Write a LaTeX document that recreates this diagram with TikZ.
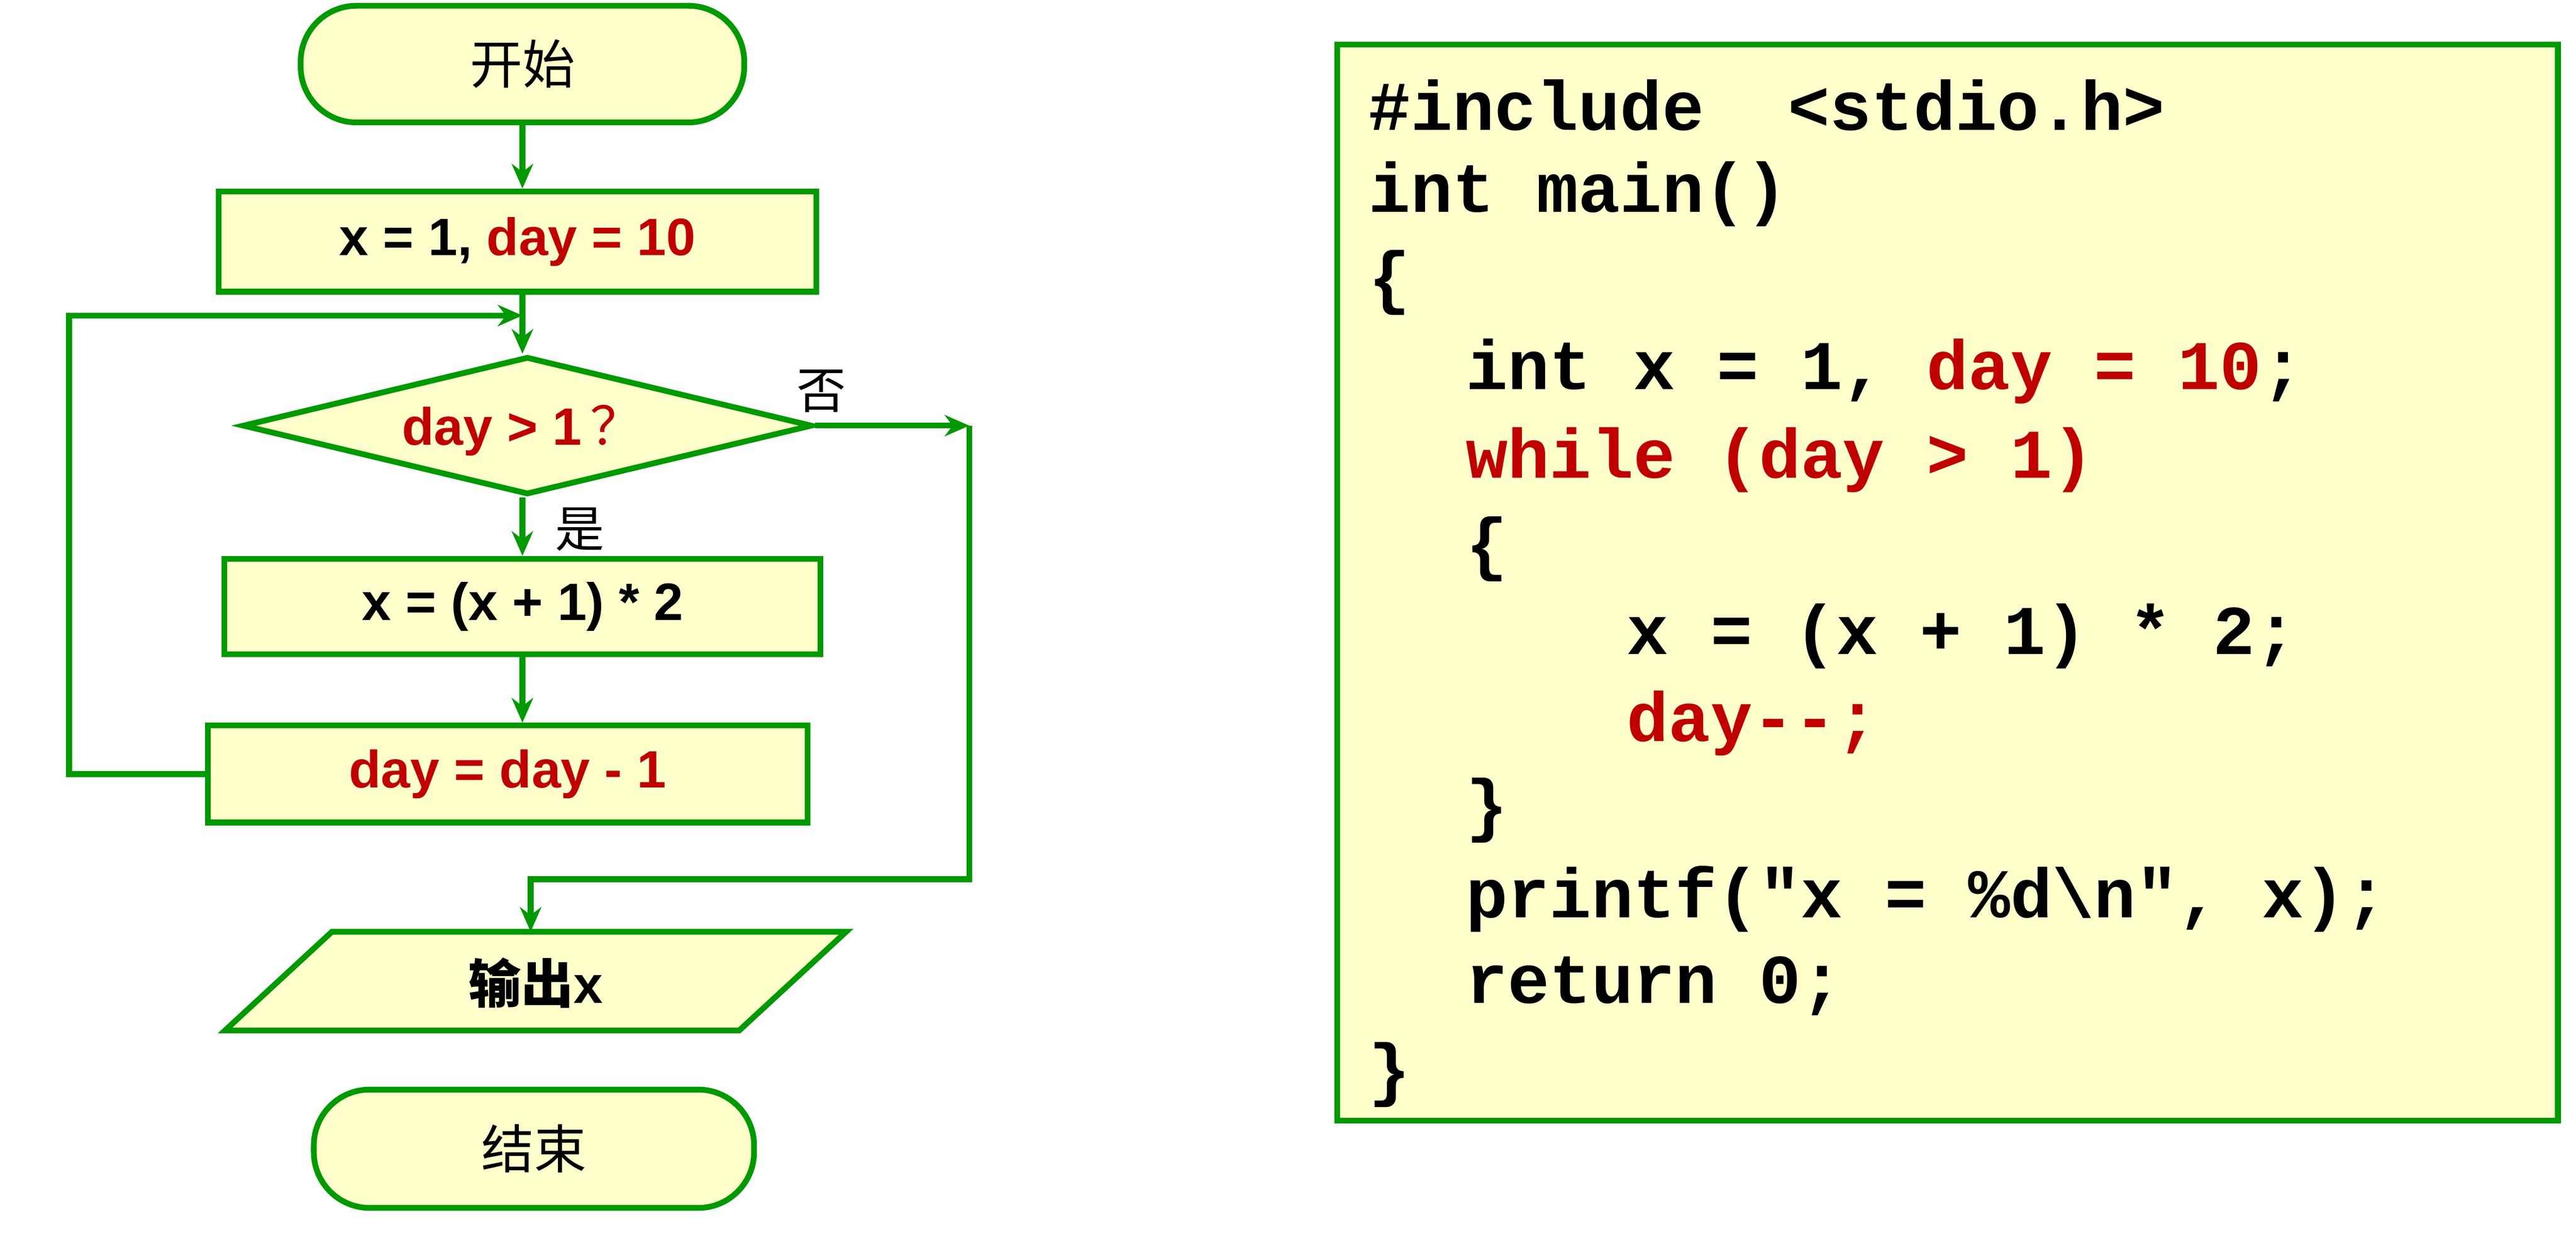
\documentclass[tikz,border=0pt]{standalone}
\usepackage{fontspec}
\setmainfont{Liberation Sans}
\newfontfamily\cjk{Noto Sans CJK SC}
\newfontfamily\codefont{Liberation Mono}
\usetikzlibrary{shapes.geometric,arrows.meta}
\definecolor{gr}{HTML}{009900}
\definecolor{fy}{HTML}{FFFFCC}
\definecolor{rd}{HTML}{C00000}
\begin{document}
\begin{tikzpicture}[x=1pt,y=-1pt,
  box/.style={draw=gr,fill=fy,line width=3.5pt,inner sep=0pt},
  ln/.style={draw=gr,line width=3.5pt},
  ar/.style={ln,-{Stealth[length=15pt,width=13pt]}},
  lab/.style={font=\fontsize{32}{36}\selectfont\bfseries},
  cl/.style={font=\fontsize{32}{36}\selectfont\cjk},
  code/.style={anchor=west,inner sep=0pt,font=\fontsize{42.5}{50}\selectfont\codefont\bfseries}]
\useasboundingbox (0,0) rectangle (1568,755);
\node[box,rounded corners=34pt,minimum width=270pt,minimum height=71pt,cl] (s) at (318,39) {开始};
\node[box,minimum width=364pt,minimum height=61pt,lab] (b1) at (315,147) {x = 1, \textcolor{rd}{day = 10}};
\node[box,diamond,aspect=4.1,minimum width=347pt,minimum height=84pt,inner sep=0pt] (d) at (321,259) {};
\node[lab,text=rd] at (318,262) {day > 1\,{\cjk\mdseries ？}};
\node[box,minimum width=363pt,minimum height=58pt,lab] (b2) at (318,369) {x = (x + 1) * 2};
\node[box,minimum width=365pt,minimum height=59pt,lab,text=rd] (b3) at (309,471) {day = day - 1};
\path[box] (137,627) -- (202,567) -- (515,567) -- (450,627) -- cycle;
\coordinate (ptop) at (323,567);
\node[lab] (o) at (326,598) {{\cjk 输出}x};
\node[box,rounded corners=34pt,minimum width=268pt,minimum height=72pt,cl] (e) at (325,699) {结束};
\node[cl,font=\fontsize{30}{32}\selectfont\cjk] (no) at (500,238) {否};
\node[cl,font=\fontsize{30}{32}\selectfont\cjk] (yes) at (353,322) {是};
\coordinate (j) at (318,192);
\coordinate (r) at (590,259);
\draw[ar] (s.south) -- (s.south |- b1.north);
\draw[ar] (b1.south -| j) -- (j |- d.north);
\draw[ar] (j |- d.south) -- (j |- b2.north);
\draw[ar] (b2.south) -- (b2.south |- b3.north);
\draw[ar] (b3.west) -- (42,471) -- (42,192) -- (j);
\draw[ar] (d.east) -- (r);
\draw[ar] (r) -- (590,535) -- (323,535) -- (ptop);
\node[box,minimum width=743pt,minimum height=655pt] (c) at (1185.5,354.5) {};
\node[code] at (833,64) {\#include\ \ <stdio.h>};
\node[code] at (833,118) {int main()};
\node[code] at (833,172) {\{};
\node[code] at (892,226) {int x = 1, \textcolor{rd}{day = 10};};
\node[code,text=rd] at (892,280) {while (day > 1)};
\node[code] at (892,334) {\{};
\node[code] at (990,387) {x = (x + 1) * 2;};
\node[code,text=rd] at (990,440) {day-{}-;};
\node[code] at (892,493) {\}};
\node[code] at (892,547) {printf("x = \%d\textbackslash n", x);};
\node[code] at (892,600) {return 0;};
\node[code] at (833,654) {\}};
\end{tikzpicture}
\end{document}
